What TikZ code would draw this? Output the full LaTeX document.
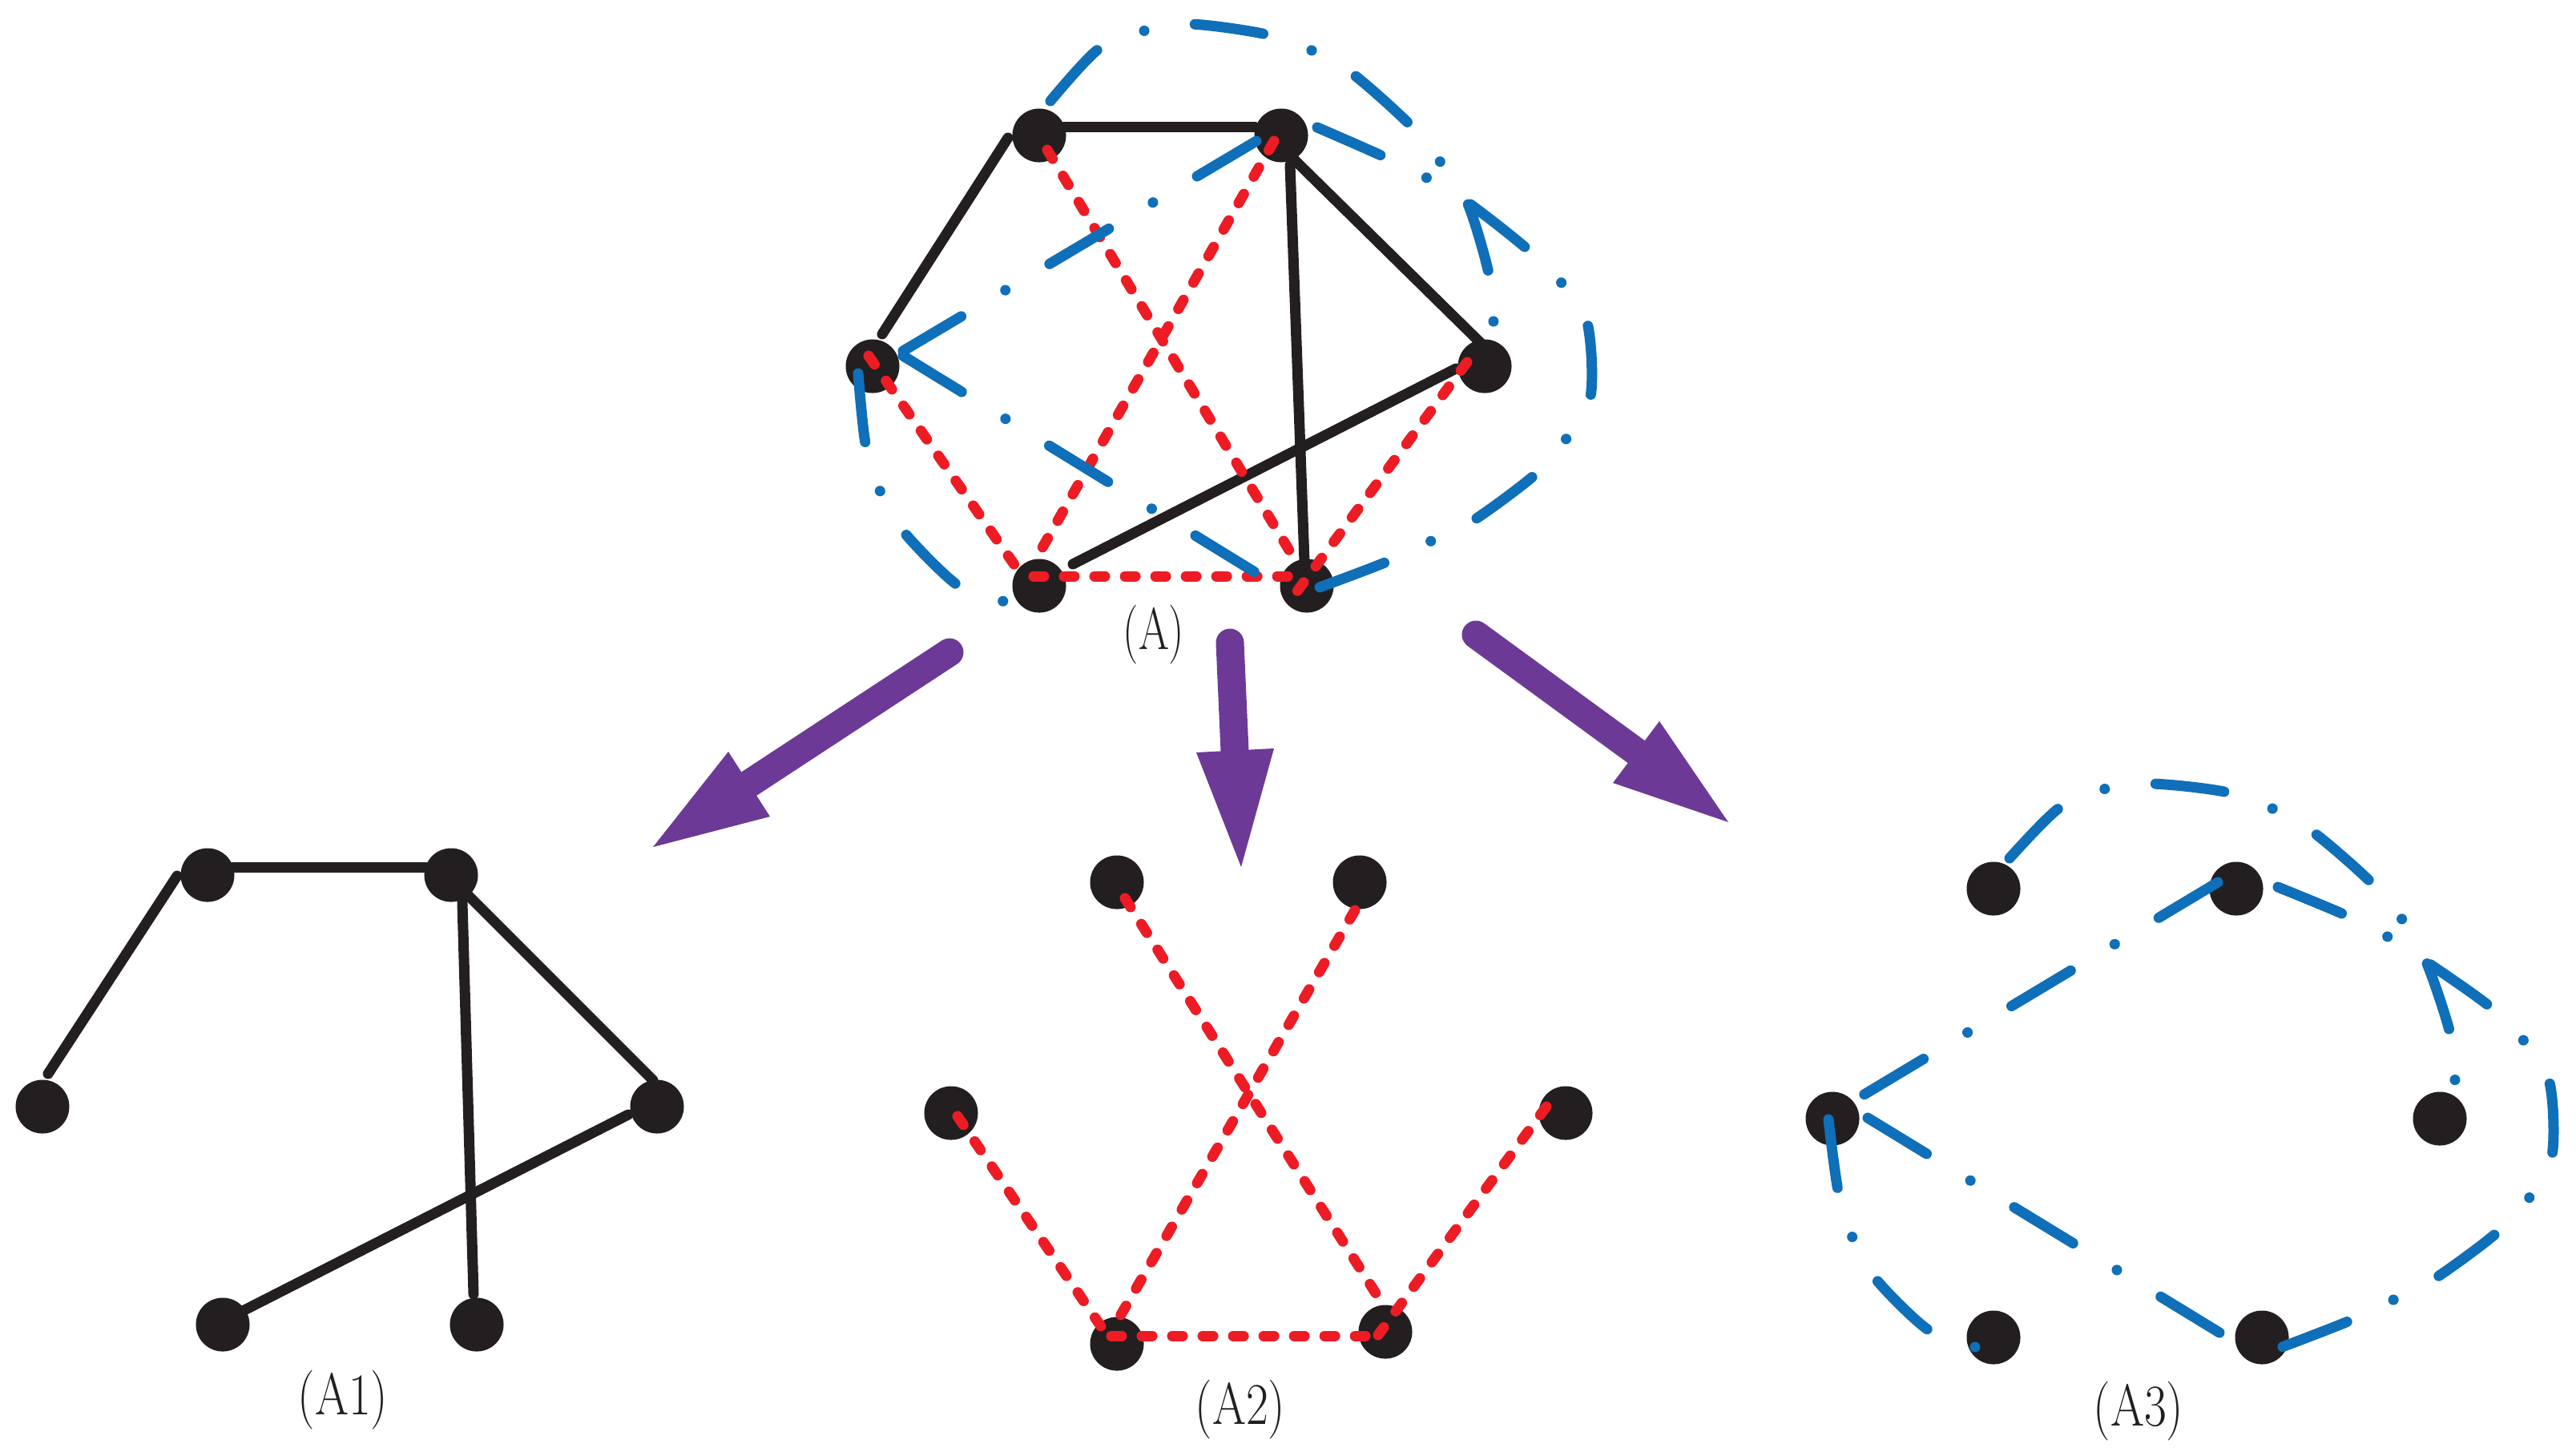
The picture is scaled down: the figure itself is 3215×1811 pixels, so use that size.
\documentclass[tikz,border=0pt]{standalone}
\usetikzlibrary{calc}
\definecolor{nblack}{RGB}{35,31,32}
\definecolor{ered}{RGB}{237,28,36}
\definecolor{eblue}{RGB}{15,111,184}
\definecolor{apurple}{RGB}{108,58,150}
\begin{document}
\begin{tikzpicture}[x=0.01cm,y=-0.01cm]
\tikzset{
 vtx/.style={circle,fill=nblack,minimum size=0.67cm,inner sep=0pt,outer sep=0pt},
 blk/.style={draw=nblack,line width=0.13cm,line cap=round},
 redd/.style={draw=ered,line width=0.13cm,line cap=round,dash pattern=on 0.13cm off 0.25cm},
 bluedd/.style={draw=eblue,line width=0.13cm,line cap=round,dash pattern=on 0.86cm off 0.64cm on 0.001cm off 0.64cm},
 pshaft/.style={draw=apurple,line width=0.35cm,line cap=round},
 phead/.style={fill=apurple},
 lbl/.style={font=\fontsize{21}{21}\selectfont,text=nblack,inner sep=0pt}
}
\useasboundingbox (0,0) rectangle (3215,1811);

% ---------- graph A ----------
\node[vtx] (a1) at (1297,169) {};
\node[vtx] (a2) at (1599,169) {};
\node[vtx] (a3) at (1089,457) {};
\node[vtx] (a4) at (1853,457) {};
\node[vtx] (a5) at (1297,731) {};
\node[vtx] (a6) at (1631,731) {};
\draw[blk] ($(a1)+(31,-11)$) -- ($(a2)+(-33,-11)$);
\draw[blk] ($(a1)+(-39,3)$) -- ($(a3)+(12,-40)$);
\draw[blk] ($(a2)+(11,37)$) -- ($(a6)+(-3,-30)$);
\draw[blk] ($(a2)+(12,26)$) -- ($(a4)+(-5,-29)$);
\draw[blk] ($(a4)+(-36,3)$) -- ($(a5)+(42,-27)$);
\draw[redd] ($(a1)+(10,18)$) -- ($(a6)+(-20,-41)$);
\draw[redd] ($(a2)+(-9,7)$) -- ($(a5)+(3,-46)$);
\draw[redd] ($(a3)+(-5,-13)$) -- ($(a5)+(-28,-22)$);
\draw[redd] ($(a5)+(-7,-12)$) -- ($(a6)+(-20,-12)$);
\draw[redd] ($(a4)+(-22,-5)$) -- ($(a6)+(-13,8)$);
% blue layer A
\draw[bluedd] ($(a2)+(-31,7)$) -- ($(a3)+(38,-19)$);
\draw[bluedd] ($(a3)+(38,-13)$) -- ($(a6)+(-60,-14)$);
\coordinate (p2s) at ($(a1)+(14,-43)$);
\coordinate (p2e) at ($(a4)+(9,-33)$);
\draw[bluedd] plot[smooth] coordinates {(p2s) (1370,62) (1426,39) (1485,30) (1576,42) (1635,62) (1688,92) (1758,154) (1796,200) (1831,252) (1858,341) (1864,402) (p2e)};
\coordinate (p3s) at ($(a2)+(45,-10)$);
\coordinate (p3e) at ($(a6)+(13,3)$);
\draw[bluedd] plot[smooth] coordinates {(p3s) (1726,195) (1779,221) (1831,252) (1904,309) (1948,352) (1981,403) (1985,495) (1953,550) (1915,593) (1838,650) (1782,677) (1726,703) (p3e)};
\coordinate (p4s) at ($(a3)+(-18,9)$);
\coordinate (p4e) at ($(a5)+(-35,21)$);
\draw[bluedd] plot[smooth] coordinates {(p4s) (1080,553) (1098,612) (1129,665) (1196,731) (1251,750) (p4e)};
\node[lbl] (lA) at (1440,792) {\scalebox{0.74}[1]{(A)}};

% ---------- graph A1 ----------
\node[vtx] (b1) at (259,1092) {};
\node[vtx] (b2) at (563,1092) {};
\node[vtx] (b3) at (53,1381) {};
\node[vtx] (b4) at (820,1381) {};
\node[vtx] (b5) at (278,1653) {};
\node[vtx] (b6) at (595,1653) {};
\draw[blk] ($(b1)+(31,-10)$) -- ($(b2)+(-32,-10)$);
\draw[blk] ($(b1)+(-38,1)$) -- ($(b3)+(7,-41)$);
\draw[blk] ($(b2)+(14,34)$) -- ($(b6)+(-4,-38)$);
\draw[blk] ($(b2)+(20,24)$) -- ($(b4)+(-5,-33)$);
\draw[blk] ($(b4)+(-36,10)$) -- ($(b5)+(21,-15)$);
\node[lbl] (lA1) at (428,1747) {\scalebox{0.82}[1]{(A1)}};

% ---------- graph A2 ----------
\node[vtx] (d1) at (1394,1101) {};
\node[vtx] (d2) at (1697,1101) {};
\node[vtx] (d3) at (1187,1389) {};
\node[vtx] (d4) at (1954,1389) {};
\node[vtx] (d5) at (1394,1677) {};
\node[vtx] (d6) at (1729,1662) {};
\draw[redd] ($(d1)+(10,20)$) -- ($(d6)+(-3,-34)$);
\draw[redd] ($(d2)+(-6,35)$) -- ($(d5)+(-1,-26)$);
\draw[redd] ($(d3)+(8,4)$) -- ($(d5)+(-16,-16)$);
\draw[redd] ($(d4)+(-24,-8)$) -- ($(d6)+(-9,4)$);
\draw[redd] ($(d5)+(-7,-10)$) -- ($(d6)+(-6,5)$);
\node[lbl] (lA2) at (1548,1759) {\scalebox{0.82}[1]{(A2)}};

% ---------- graph A3 ----------
\node[vtx] (c1) at (2488,1109) {};
\node[vtx] (c2) at (2791,1109) {};
\node[vtx] (c3) at (2287,1396) {};
\node[vtx] (c4) at (3045,1396) {};
\node[vtx] (c5) at (2488,1669) {};
\node[vtx] (c6) at (2823,1669) {};
\draw[bluedd] ($(c2)+(-23,-8)$) -- ($(c3)+(31,-25)$);
\draw[bluedd] ($(c3)+(44,-1)$) -- ($(c6)+(-53,-6)$);
\coordinate (q2s) at ($(c1)+(20,-38)$);
\coordinate (q2e) at ($(c4)+(17,-28)$);
\draw[bluedd] plot[smooth] coordinates {(q2s) (2569,1009) (2625,985) (2685,978) (2776,988) (2836,1009) (2889,1040) (2957,1099) (2997,1146) (3028,1200) (3058,1290) (3064,1349) (q2e)};
\coordinate (q3s) at ($(c2)+(52,-2)$);
\coordinate (q3e) at ($(c6)+(25,12)$);
\draw[bluedd] plot[smooth] coordinates {(q3s) (2925,1141) (2980,1169) (3028,1200) (3106,1255) (3150,1299) (3182,1351) (3185,1442) (3155,1497) (3113,1541) (3038,1596) (2983,1624) (2928,1650) (q3e)};
\coordinate (q4s) at ($(c3)+(-5,1)$);
\coordinate (q4e) at ($(c5)+(-13,14)$);
\draw[bluedd] plot[smooth] coordinates {(q4s) (2294,1486) (2311,1542) (2341,1596) (2407,1660) (2465,1681) (q4e)};
\node[lbl] (lA3) at (2669,1761) {\scalebox{0.82}[1]{(A3)}};

% ---------- purple arrows ----------
\coordinate (s1) at (1185,814); \coordinate (m1) at (935,978);
\coordinate (h1a) at (909,938); \coordinate (t1) at (815,1057); \coordinate (h1b) at (961,1019);
\draw[pshaft] (s1) -- (m1);
\fill[phead] (h1a) -- (t1) -- (h1b) -- cycle;
\coordinate (s2) at (1535,802); \coordinate (m2) at (1541,937);
\coordinate (h2a) at (1493,939); \coordinate (t2) at (1549,1082); \coordinate (h2b) at (1590,934);
\draw[pshaft] (s2) -- (m2);
\fill[phead] (h2a) -- (t2) -- (h2b) -- cycle;
\coordinate (s3) at (1842,792); \coordinate (m3) at (2042,938);
\coordinate (h3a) at (2071,900); \coordinate (t3) at (2157,1026); \coordinate (h3b) at (2013,977);
\draw[pshaft] (s3) -- (m3);
\fill[phead] (h3a) -- (t3) -- (h3b) -- cycle;
\end{tikzpicture}
\end{document}
